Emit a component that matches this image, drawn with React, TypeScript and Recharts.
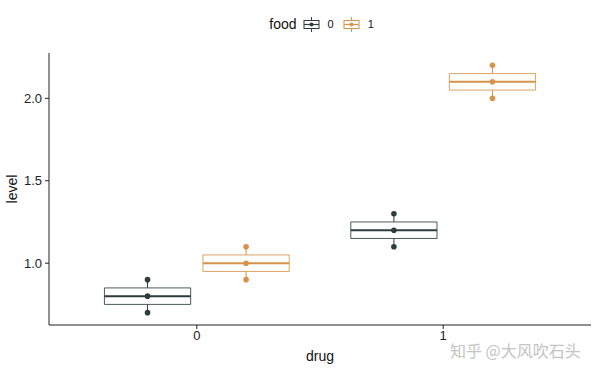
import React from "react";
import {
  ComposedChart,
  XAxis,
  YAxis,
  Scatter,
  ReferenceArea,
  ReferenceLine,
} from "recharts";

const drugs = ["0", "1"];
const foods = ["0", "1"];
// level values per drug, for each food group
const food0Levels = [
  [0.7, 0.8, 0.9],
  [1.1, 1.2, 1.3],
];
const food1Levels = [
  [0.9, 1.0, 1.1],
  [2.0, 2.1, 2.2],
];
const yTicks = [1.0, 1.5, 2.0];
const foodColors = ["#2D3D3D", "#D6944B"];

const DODGE = 0.8;
const BOX_W = 0.35;
const FONT = "'Liberation Sans', Arial, sans-serif";

function quantile(sorted: number[], p: number) {
  const h = (sorted.length - 1) * p;
  const lo = Math.floor(h);
  const hi = Math.ceil(h);
  return sorted[lo] + (sorted[hi] - sorted[lo]) * (h - lo);
}

const groups = [food0Levels, food1Levels];
const stats = groups.flatMap((lv, fi) =>
  drugs.map((d, di) => {
    const s = [...lv[di]].sort((a, b) => a - b);
    const center = di + 1 + (fi - (foods.length - 1) / 2) * (DODGE / foods.length);
    return {
      fi,
      center,
      min: s[0],
      q1: quantile(s, 0.25),
      med: quantile(s, 0.5),
      q3: quantile(s, 0.75),
      max: s[s.length - 1],
    };
  })
);

const pointData = groups.map((lv, fi) =>
  drugs.flatMap((d, di) =>
    lv[di].map((v) => ({
      x: di + 1 + (fi - (foods.length - 1) / 2) * (DODGE / foods.length),
      y: v,
    }))
  )
);

const LegendIcon = ({ color }: { color: string }) => (
  <svg width={17} height={15} style={{ display: "block" }}>
    <line x1={8.5} y1={0} x2={8.5} y2={15} stroke={color} strokeWidth={1} />
    <rect x={1} y={3.5} width={15} height={8} fill="white" stroke={color} strokeWidth={1} />
    <line x1={1} y1={7.5} x2={16} y2={7.5} stroke={color} strokeWidth={1.2} />
    <circle cx={8.5} cy={7.5} r={2} fill={color} />
  </svg>
);

export default function App() {
  return (
    <div style={{ position: "absolute", left: 0, top: 0, width: 600, height: 370, background: "white" }}>
      <div
        style={{
          position: "absolute",
          top: 16,
          left: 0,
          width: 600,
          display: "flex",
          justifyContent: "center",
          alignItems: "center",
          fontFamily: FONT,
          color: "#111",
          paddingLeft: 52,
          boxSizing: "border-box",
        }}
      >
        <span style={{ marginRight: 6, fontSize: 14 }}>food</span>
        {foods.map((f, i) => (
          <span key={f} style={{ display: "flex", alignItems: "center", marginRight: 9 }}>
            <LegendIcon color={foodColors[i]} />
            <span style={{ marginLeft: 8, fontSize: 11 }}>{f}</span>
          </span>
        ))}
      </div>
      <ComposedChart
        width={600}
        height={370}
        margin={{ top: 53, right: 9, bottom: 25, left: 0 }}
      >
        <XAxis
          type="number"
          dataKey="x"
          domain={[0.4, 2.6]}
          ticks={drugs.map((_, i) => i + 1)}
          tickFormatter={(v: number) => drugs[v - 1] ?? ""}
          allowDataOverflow
          height={20}
          stroke="#222"
          tickSize={4}
          tick={{ fill: "#222", fontSize: 13, fontFamily: FONT }}
          label={{
            content: (props: any) => {
              const vb = props.viewBox || {};
              return (
                <text
                  x={vb.x + vb.width / 2}
                  y={vb.y + 36}
                  textAnchor="middle"
                  fontFamily={FONT}
                  fontSize={14}
                  fill="#111"
                >
                  drug
                </text>
              );
            },
          }}
        />
        <YAxis
          type="number"
          domain={[0.625, 2.275]}
          ticks={yTicks}
          tickFormatter={(v: number) => v.toFixed(1)}
          allowDataOverflow
          width={49}
          stroke="#222"
          tickSize={4}
          tickMargin={3}
          tick={{ fill: "#222", fontSize: 13, fontFamily: FONT }}
          label={{
            content: (props: any) => {
              const vb = props.viewBox || {};
              const x = vb.x + 17;
              const y = vb.y + vb.height / 2;
              return (
                <text
                  x={x}
                  y={y}
                  transform={`rotate(-90, ${x}, ${y})`}
                  textAnchor="middle"
                  fontFamily={FONT}
                  fontSize={14}
                  fill="#111"
                >
                  level
                </text>
              );
            },
          }}
        />
        {stats.map((s, i) => (
          <ReferenceLine
            key={`wl${i}`}
            segment={[
              { x: s.center, y: s.min },
              { x: s.center, y: s.q1 },
            ]}
            stroke={foodColors[s.fi]}
            strokeWidth={1}
            ifOverflow="visible"
          />
        ))}
        {stats.map((s, i) => (
          <ReferenceLine
            key={`wh${i}`}
            segment={[
              { x: s.center, y: s.q3 },
              { x: s.center, y: s.max },
            ]}
            stroke={foodColors[s.fi]}
            strokeWidth={1}
            ifOverflow="visible"
          />
        ))}
        {stats.map((s, i) => (
          <ReferenceArea
            key={`b${i}`}
            x1={s.center - BOX_W / 2}
            x2={s.center + BOX_W / 2}
            y1={s.q1}
            y2={s.q3}
            fill="white"
            fillOpacity={1}
            stroke={foodColors[s.fi]}
            strokeOpacity={0.85}
            strokeWidth={1}
            ifOverflow="visible"
          />
        ))}
        {stats.map((s, i) => (
          <ReferenceLine
            key={`m${i}`}
            segment={[
              { x: s.center - BOX_W / 2, y: s.med },
              { x: s.center + BOX_W / 2, y: s.med },
            ]}
            stroke={foodColors[s.fi]}
            strokeWidth={2}
            ifOverflow="visible"
          />
        ))}
        {pointData.map((pts, fi) => (
          <Scatter
            key={`p${fi}`}
            data={pts}
            dataKey="y"
            fill={foodColors[fi]}
            isAnimationActive={false}
            shape={(p: any) => <circle cx={p.cx} cy={p.cy} r={2.8} fill={foodColors[fi]} />}
          />
        ))}
      </ComposedChart>
      <div
        style={{
          position: "absolute",
          left: 450,
          top: 338,
          fontFamily: "'Noto Sans CJK SC', sans-serif",
          fontSize: 16,
          color: "#c4c4c4",
          whiteSpace: "nowrap",
        }}
      >
        知乎 @大风吹石头
      </div>
    </div>
  );
}
